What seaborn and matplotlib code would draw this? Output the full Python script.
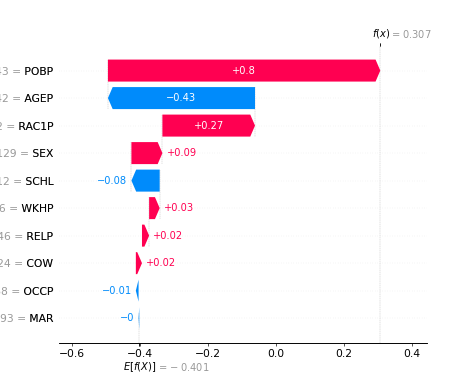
import numpy as np
import pandas as pd
import matplotlib
matplotlib.use("Agg")
import matplotlib.pyplot as plt
import matplotlib.transforms as mtransforms
from matplotlib.patches import Polygon
import seaborn as sns

# waterfall data (top row first)
features = ["POBP", "AGEP", "RAC1P", "SEX", "SCHL", "WKHP", "RELP", "COW", "OCCP", "MAR"]
feature_values = ["-1.243", "0.642", "0.52", "-0.129", "-1.112", "0.236", "-0.846", "1.324", "0.568", "-1.093"]
shap_values = [0.800, -0.432, 0.272, 0.091, -0.083, 0.031, 0.021, 0.018, -0.008, -0.002]
base_value = -0.401

red = "#ff0051"
blue = "#008bfb"


def fmt(v, f):
    s = f % v
    s = s.rstrip("0").rstrip(".")
    if s.startswith("-"):
        s = "\u2212" + s[1:]
    return s


fx = base_value + sum(shap_values)

# left end of each bar, walking down from f(x)
lefts = []
loc = fx
for v in shap_values:
    loc -= v
    lefts.append(loc)

df = pd.DataFrame({"feature": features, "shap": shap_values, "left": lefts})
colors = [red if v >= 0 else blue for v in shap_values]

fig, ax = plt.subplots(figsize=(8, 6.5), dpi=59.25)

sns.barplot(data=df, x="shap", y="feature", orient="h", errorbar=None, width=0.8,
            color=red, facecolor=colors, left=df["left"].values, linewidth=0, ax=ax)

xmin, xmax = -0.636, 0.443
ax.set_xlim(xmin, xmax)
ax.set_ylim(9.89, -0.89)
ax.set_xlabel("")
ax.set_ylabel("")

bbox = ax.get_window_extent().transformed(fig.dpi_scale_trans.inverted())
xscale = (xmax - xmin) / bbox.width
hl = 0.08 * xscale

# turn the bars into arrows
for rect in list(ax.patches):
    x0, w = rect.get_x(), rect.get_width()
    y0, h = rect.get_y(), rect.get_height()
    s = 1 if w >= 0 else -1
    tip = x0 + w
    neck = tip - s * min(abs(w), hl)
    pts = [(x0, y0), (neck, y0), (tip, y0 + h / 2), (neck, y0 + h), (x0, y0 + h)]
    ax.add_patch(Polygon(pts, closed=True, facecolor=rect.get_facecolor(), lw=0))
    rect.remove()

# row guides and connectors
for i in range(len(features)):
    ax.axhline(i, color="#cccccc", lw=0.5, dashes=(1, 5), zorder=-1)
for i in range(len(features) - 4):
    ax.plot([lefts[i], lefts[i]], [i - 0.4, i + 1.4], color="#bbbbbb", ls="--", lw=0.5, zorder=-1)
ax.axvline(base_value, 0, 1 / len(features), color="#bbbbbb", ls="--", lw=0.5, zorder=-1)
ax.axvline(fx, 0, 1, color="#bbbbbb", ls="--", lw=0.5, zorder=-1)

# value labels
renderer = fig.canvas.get_renderer()
for i, v in enumerate(shap_values):
    lab = fmt(v, "%+0.02f")
    txt = ax.text(lefts[i] + v / 2, i, lab, ha="center", va="center", color="white", fontsize=12)
    tw = txt.get_window_extent(renderer).width
    p0 = ax.transData.transform((lefts[i], i))[0]
    p1 = ax.transData.transform((lefts[i] + v, i))[0]
    if tw + 8 > abs(p1 - p0):
        txt.remove()
        if v >= 0:
            ax.text(lefts[i] + v + (5 / 72) * xscale, i, lab, ha="left", va="center",
                    color=red, fontsize=12)
        else:
            ax.text(lefts[i] + v - (5 / 72) * xscale, i, lab, ha="right", va="center",
                    color=blue, fontsize=12)

# y tick labels: grey "value = name" under black "name"
full = [fmt(float(fv), "%0.03f") + " = " + f for fv, f in zip(feature_values, features)]
names = [" " + f for f in features]
ax.set_yticks(list(range(len(features))) + list(np.arange(len(features)) + 1e-8), labels=full + names, fontsize=13)
ticks = ax.yaxis.get_majorticklabels()
for i in range(len(features)):
    ticks[i].set_color("#999999")

ax.xaxis.set_ticks_position("bottom")
ax.yaxis.set_ticks_position("none")
ax.tick_params(labelsize=13)
for sp in ["right", "top", "left"]:
    ax.spines[sp].set_visible(False)

# E[f(X)] marker
base_txt = fmt(base_value, "%0.03f").replace("\u2212", "-\\;")
ax2 = ax.twiny()
ax2.set_xlim(xmin, xmax)
ax2.set_xticks([base_value, base_value + 1e-8],
               labels=["\n$E[f(X)]$", "\n$ = " + base_txt + "$"], fontsize=12, ha="left")
ax2.xaxis.set_ticks_position("bottom")
for sp in ["right", "top", "left"]:
    ax2.spines[sp].set_visible(False)

# f(x) marker
ax3 = ax2.twiny()
ax3.set_xlim(xmin, xmax)
ax3.set_xticks([fx, fx + 1e-8], labels=["$f(x)$", "$ = " + fmt(fx, "%0.03f") + "$"], fontsize=12, ha="left")
t3 = ax3.xaxis.get_majorticklabels()
t3[0].set_transform(t3[0].get_transform() + mtransforms.ScaledTranslation(-10 / 72, 0, fig.dpi_scale_trans))
t3[1].set_transform(t3[1].get_transform() + mtransforms.ScaledTranslation(12 / 72, 0, fig.dpi_scale_trans))
t3[1].set_color("#999999")
for sp in ["right", "top", "left"]:
    ax3.spines[sp].set_visible(False)

t2 = ax2.xaxis.get_majorticklabels()
t2[0].set_transform(t2[0].get_transform() + mtransforms.ScaledTranslation(-20 / 72, 0, fig.dpi_scale_trans))
t2[1].set_transform(t2[1].get_transform() + mtransforms.ScaledTranslation(22 / 72, -1 / 72, fig.dpi_scale_trans))
t2[1].set_color("#999999")

fig.savefig("out.png", dpi=59.25)
